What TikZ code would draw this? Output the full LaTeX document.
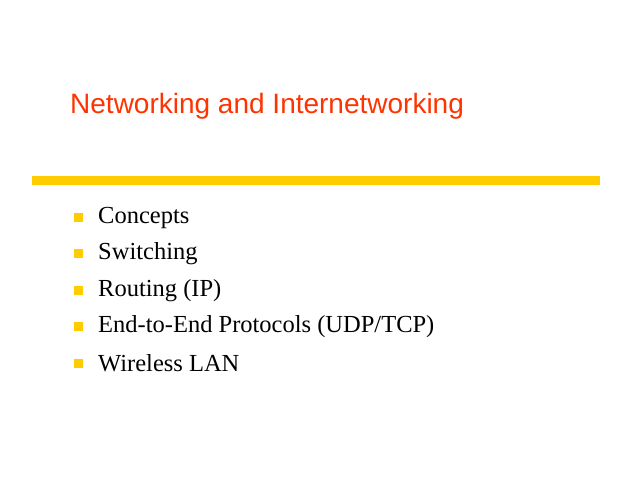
\documentclass[tikz,border=0pt]{standalone}
\usepackage{fontspec}
\setmainfont{Liberation Serif}
\newfontfamily\arial{Liberation Sans}
\definecolor{titlered}{HTML}{FF3300}
\definecolor{baryellow}{HTML}{FFCC00}
\begin{document}
\begin{tikzpicture}[x=1pt,y=-1pt,
  bul/.style={fill=baryellow,minimum size=9pt,inner sep=0pt},
  item/.style={anchor=west,inner sep=0pt,font=\fontsize{24.5}{28}\selectfont}]
\useasboundingbox[fill=white] (0,0) rectangle (638,478);
\node[anchor=west,inner sep=0pt,text=titlered,font=\arial\fontsize{28}{32}\selectfont] (title) at (70,106) {Networking and Internetworking};
\fill[baryellow] (32,176) rectangle (600,185);
\foreach \t [count=\i] in {Concepts,Switching,Routing (IP),End-to-End Protocols (UDP/TCP),Wireless LAN}{
  \node[bul] (b\i) at (78,{181+36.5*\i}) {};
  \node[item] (t\i) at (98,{181+36.5*\i}) {\t};
}
\end{tikzpicture}
\end{document}
